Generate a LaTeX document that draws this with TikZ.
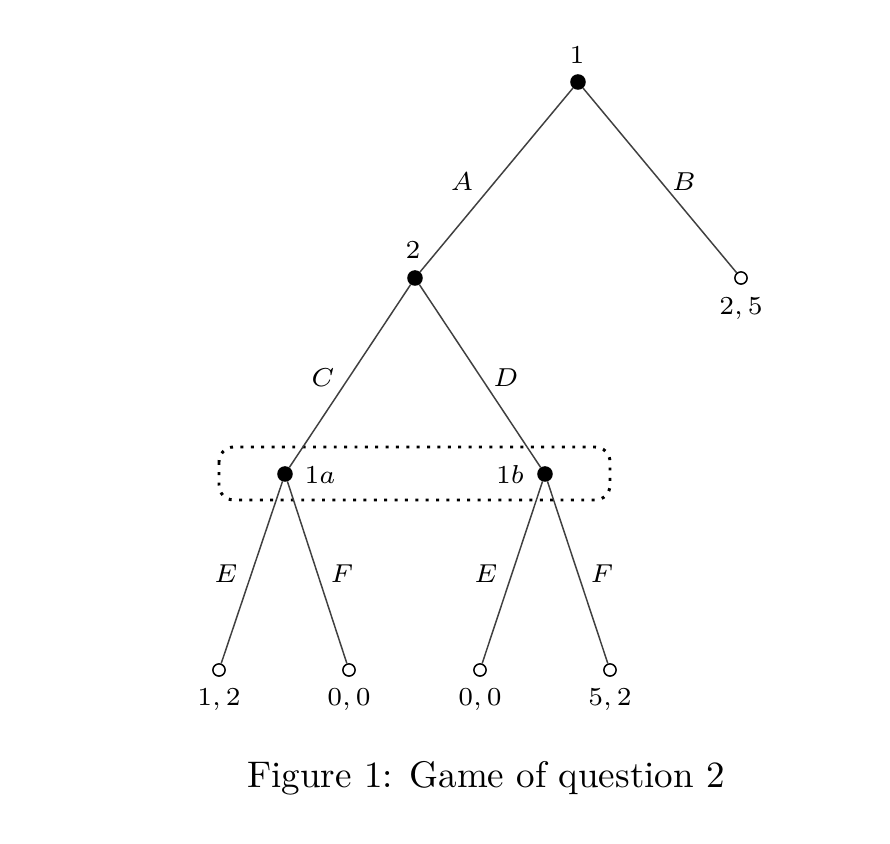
\documentclass[tikz,border=0pt]{standalone}
\begin{document}
\begin{tikzpicture}[x=0.27pt,y=-0.27pt,
  dec/.style={circle,fill=black,draw=black,inner sep=0pt,minimum size=3.8pt},
  term/.style={circle,fill=white,draw=black,thin,inner sep=0pt,minimum size=3.3pt},
  edge/.style={draw=black!75,thin},
  lab/.style={font=\fontsize{7.5}{9}\selectfont,inner sep=0pt}]
\useasboundingbox (0,0) rectangle (890,844);
\draw[dotted,thick,rounded corners=4pt] (219,447) rectangle (610,500);
\node[dec] (r) at (578,82) {};
\node[dec] (n2) at (415,278) {};
\node[term] (lb) at (741,278) {};
\node[dec] (a) at (285,474) {};
\node[dec] (b) at (545,474) {};
\node[term] (l1) at (219,670) {};
\node[term] (l2) at (349,670) {};
\node[term] (l3) at (480,670) {};
\node[term] (l4) at (610,670) {};
\draw[edge] (r) -- (n2); \draw[edge] (r) -- (lb);
\draw[edge] (n2) -- (a); \draw[edge] (n2) -- (b);
\draw[edge] (a) -- (l1); \draw[edge] (a) -- (l2);
\draw[edge] (b) -- (l3); \draw[edge] (b) -- (l4);
\node[lab] (t1) at (577,55) {$1$};
\node[lab] (t2) at (413,250) {$2$};
\node[lab] (tA) at (462,182) {$A$};
\node[lab] (tB) at (684,182) {$B$};
\node[lab] (tC) at (323,378) {$C$};
\node[lab] (tD) at (506,378) {$D$};
\node[lab] (t1a) at (320,475) {$1a$};
\node[lab] (t1b) at (510,475) {$1b$};
\node[lab] (tE1) at (226,574) {$E$};
\node[lab] (tF1) at (342,574) {$F$};
\node[lab] (tE2) at (486,574) {$E$};
\node[lab] (tF2) at (602,574) {$F$};
\node[lab] (p0) at (741,309) {$2,5$};
\node[lab] (p1) at (219,700) {$1,2$};
\node[lab] (p2) at (349,700) {$0,0$};
\node[lab] (p3) at (480,700) {$0,0$};
\node[lab] (p4) at (610,700) {$5,2$};
\node[font=\fontsize{10}{12}\selectfont,inner sep=0pt] (cap) at (486,778) {Figure 1: Game of question 2};
\end{tikzpicture}
\end{document}
